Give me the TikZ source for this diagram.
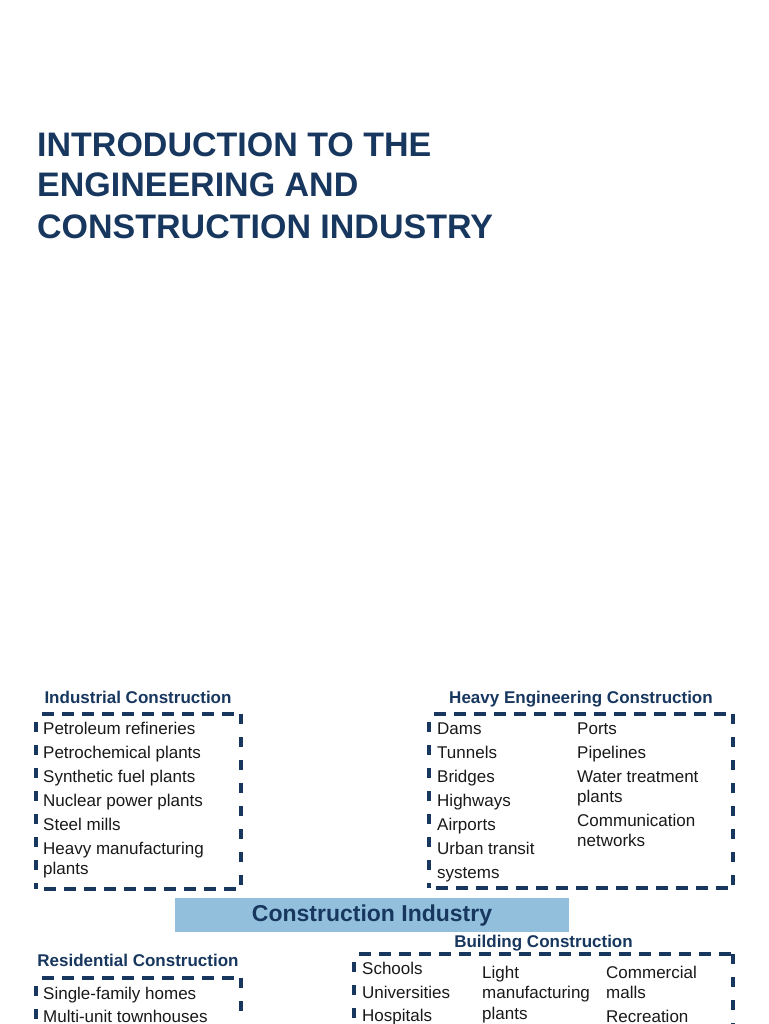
\documentclass[tikz,border=0pt]{standalone}
\usepackage{fontspec}
\setmainfont{Liberation Sans}
\definecolor{navy}{RGB}{24,55,95}
\definecolor{barblue}{RGB}{146,192,220}
\definecolor{itemtxt}{RGB}{25,25,25}
\begin{document}
\begin{tikzpicture}[x=1pt,y=-1pt,
  title/.style={anchor=base west,inner sep=0pt,text=navy,font=\fontsize{34}{40}\selectfont\bfseries},
  head/.style={anchor=base,inner sep=0pt,text=navy,font=\fontsize{17}{20}\selectfont\bfseries},
  item/.style={anchor=base west,inner sep=0pt,text=itemtxt,font=\fontsize{17}{20}\selectfont},
  hdash/.style={draw=navy,line width=3.3pt,dash pattern=on 12pt off 8pt},
  vdash/.style={draw=navy,line width=3.3pt,dash pattern=on 10pt off 13pt},
  ldash/.style={draw=navy,line width=3.3pt,dash pattern=on 10pt off 13pt,dash phase=15pt},
  bar/.style={fill=barblue,draw=none,inner sep=0pt}]
\useasboundingbox (0,0) rectangle (768,1024);
\fill[white] (0,0) rectangle (768,1024);
% title
\node[title] (t1) at (37,157) {INTRODUCTION TO THE};
\node[title] (t2) at (37,197) {ENGINEERING AND};
\node[title] (t3) at (37,238) {CONSTRUCTION INDUSTRY};
% Industrial
\node[head] (hind) at (138,703) {Industrial Construction};
\draw[hdash] (42,714) -- (241,714) (44,889) -- (241,889);
\draw[ldash] (36,714) -- (36,889);
\draw[vdash] (241,714) -- (241,889);
\node[item] (i1) at (43,734) {Petroleum refineries};
\node[item] (i2) at (43,758) {Petrochemical plants};
\node[item] (i3) at (43,782) {Synthetic fuel plants};
\node[item] (i4) at (43,806) {Nuclear power plants};
\node[item] (i5) at (43,830) {Steel mills};
\node[item] (i6) at (43,854) {Heavy manufacturing};
\node[item] (i7) at (43,874) {plants};
% Heavy engineering
\node[head] (hhe) at (581,703) {Heavy Engineering Construction};
\draw[hdash] (434,714) -- (733,714) (436,888) -- (733,888);
\draw[ldash] (429,714) -- (429,888);
\draw[vdash] (733,714) -- (733,888);
\node[item] (h1) at (437,734) {Dams};
\node[item] (h2) at (437,758) {Tunnels};
\node[item] (h3) at (437,782) {Bridges};
\node[item] (h4) at (437,806) {Highways};
\node[item] (h5) at (437,830) {Airports};
\node[item] (h6) at (437,854) {Urban transit};
\node[item] (h7) at (437,878) {systems};
\node[item] (h8) at (577,734) {Ports};
\node[item] (h9) at (577,758) {Pipelines};
\node[item] (h10) at (577,782) {Water treatment};
\node[item] (h11) at (577,802) {plants};
\node[item] (h12) at (577,826) {Communication};
\node[item] (h13) at (577,846) {networks};
% bar
\node[bar,minimum width=394pt,minimum height=34pt] (bar) at (372,915) {};
\node[anchor=base,inner sep=0pt,text=navy,font=\fontsize{23}{26}\selectfont\bfseries] (ci) at (372,921) {Construction Industry};
% Building
\node[head] (hbc) at (543.5,947) {Building Construction};
\draw[hdash] (359,954) -- (733,954);
\draw[ldash] (354,954) -- (354,1030);
\draw[vdash] (733,954) -- (733,1030);
\node[item] (b1) at (362,974) {Schools};
\node[item] (b2) at (362,998) {Universities};
\node[item] (b3) at (362,1021) {Hospitals};
\node[item] (b4) at (482,978) {Light};
\node[item] (b5) at (482,998) {manufacturing};
\node[item] (b6) at (482,1019) {plants};
\node[item] (b7) at (606,978) {Commercial};
\node[item] (b8) at (606,998) {malls};
\node[item] (b9) at (606,1022) {Recreation};
% Residential
\node[head] (hres) at (138,966) {Residential Construction};
\draw[hdash] (42,978) -- (241,978);
\draw[ldash] (36,978) -- (36,1030);
\draw[vdash] (241,978) -- (241,1030);
\node[item] (r1) at (43,999) {Single-family homes};
\node[item] (r2) at (43,1022) {Multi-unit townhouses};
\end{tikzpicture}
\end{document}
